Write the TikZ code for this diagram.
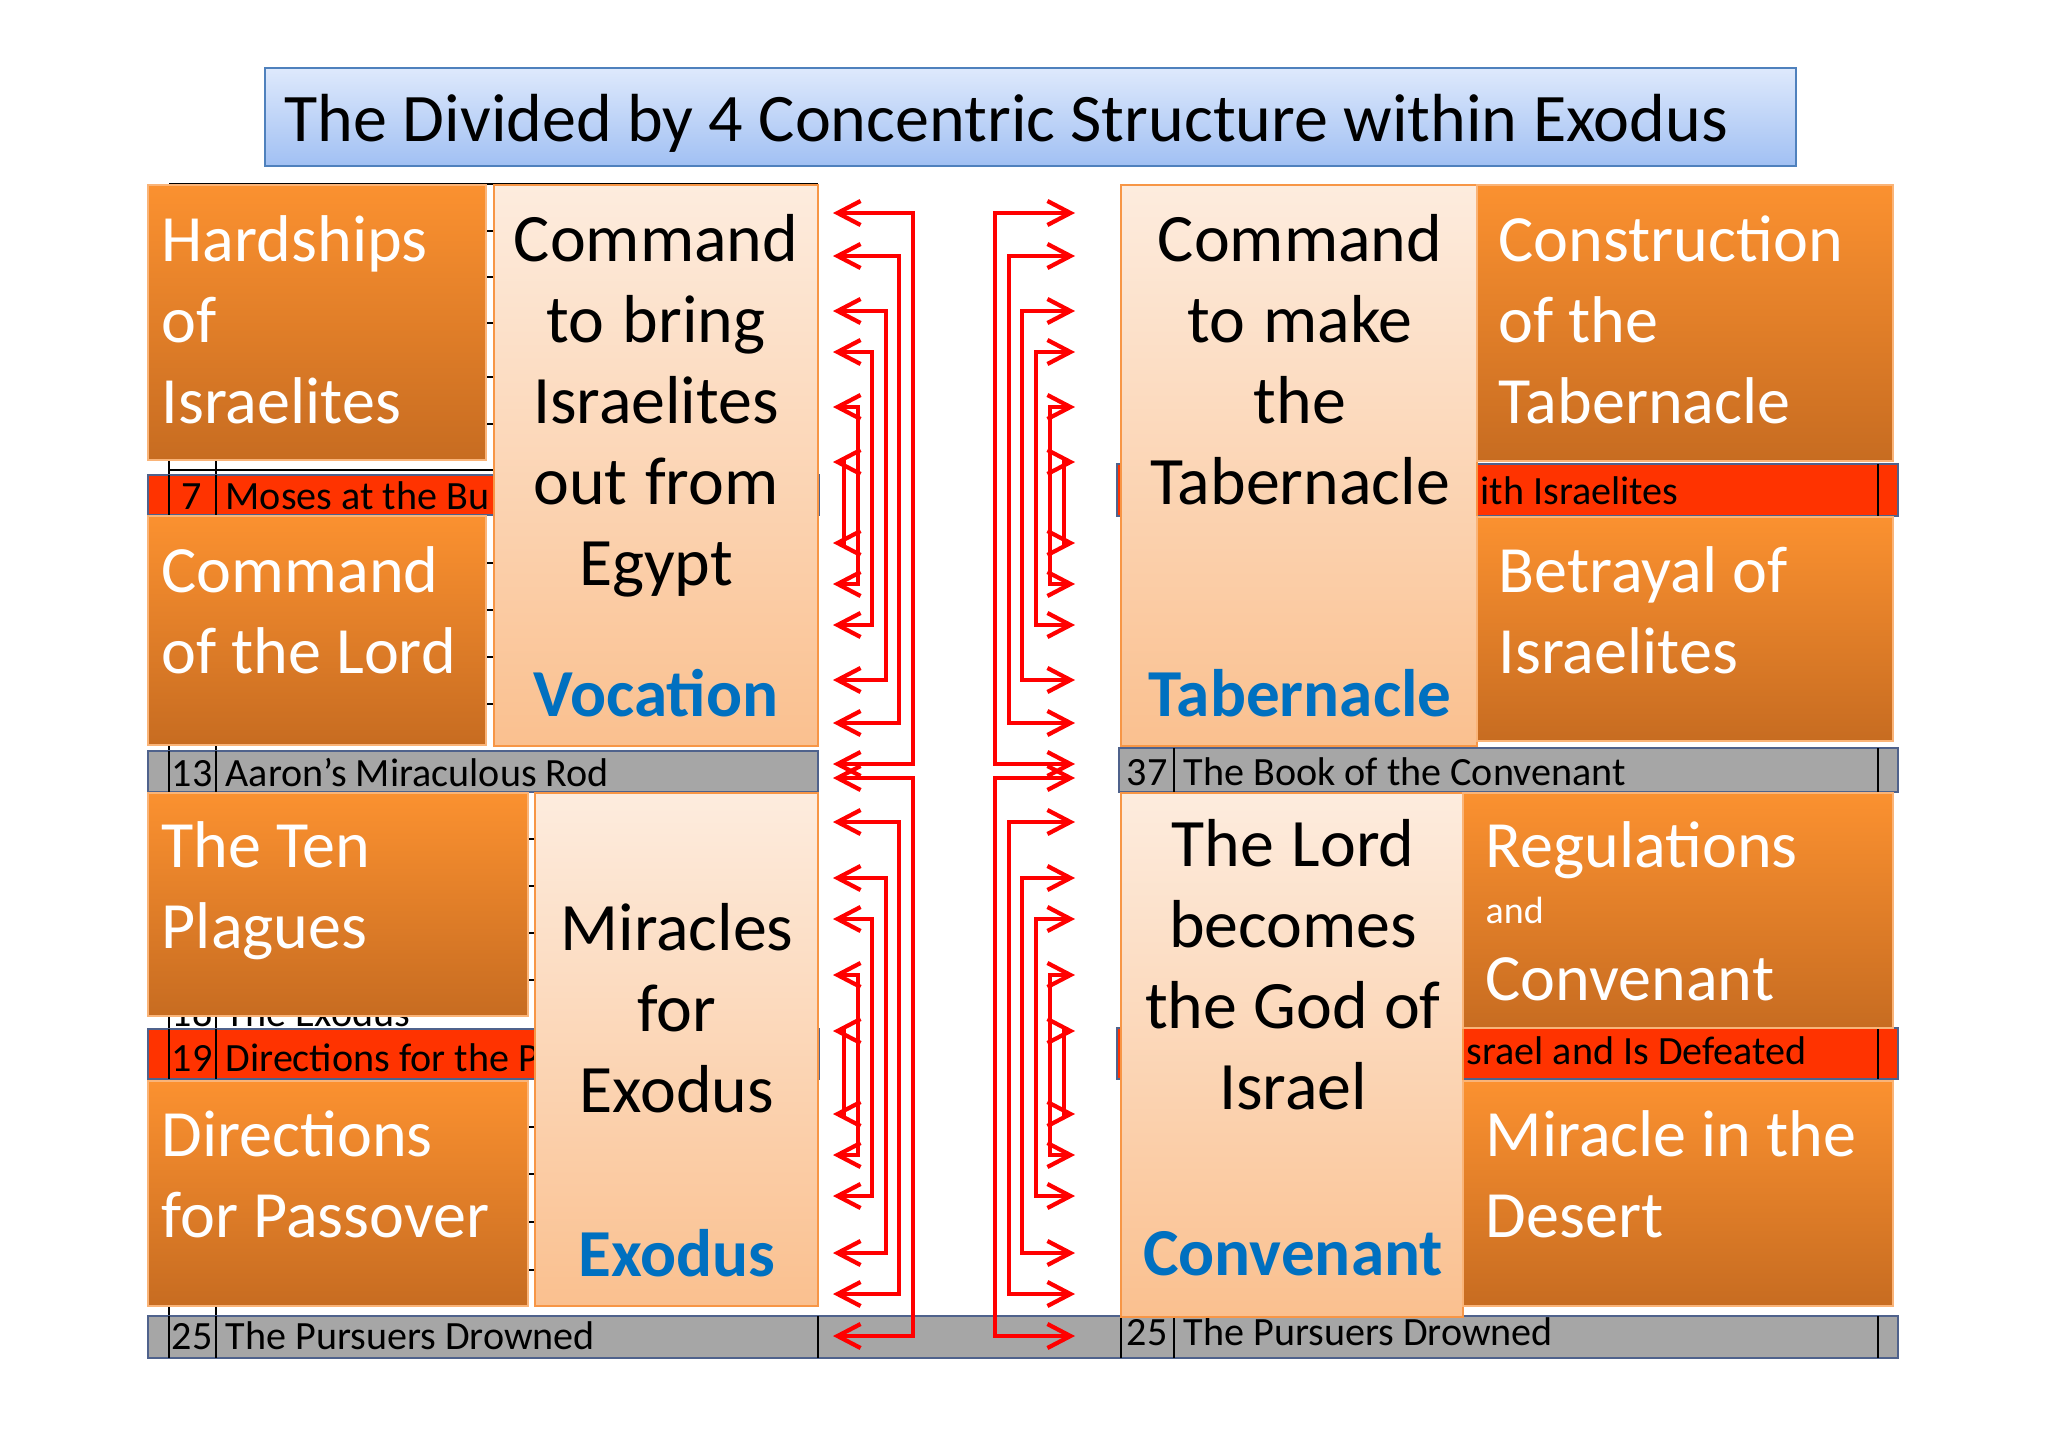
\documentclass[tikz,border=0pt]{standalone}
\usepackage{fontspec}
\setmainfont{Carlito}
\usetikzlibrary{arrows.meta,fit}

\definecolor{otop}{RGB}{251,145,48}
\definecolor{obot}{RGB}{199,108,33}
\definecolor{oline}{RGB}{250,180,120}
\definecolor{ltop}{RGB}{253,236,222}
\definecolor{lbot}{RGB}{250,192,143}
\definecolor{lline}{RGB}{247,150,70}
\definecolor{bandred}{RGB}{255,51,0}
\definecolor{bandgray}{RGB}{166,166,166}
\definecolor{bandline}{RGB}{79,98,140}
\definecolor{ttop}{RGB}{222,233,252}
\definecolor{tbot}{RGB}{161,192,243}
\definecolor{tline}{RGB}{79,129,189}
\definecolor{labblue}{RGB}{0,112,192}

\tikzset{
  obox/.style={draw=oline, line width=0.5pt, top color=otop, bottom color=obot, inner sep=0pt},
  lbox/.style={draw=lline, line width=0.6pt, top color=ltop, bottom color=lbot, inner sep=0pt},
  redband/.style={draw=bandline, line width=0.8pt, fill=bandred, inner sep=0pt},
  grayband/.style={draw=bandline, line width=0.8pt, fill=bandgray, inner sep=0pt},
  natspace/.style={execute at begin node={\spaceskip=0pt\xspaceskip=0pt\relax}},
  wtext/.style={natspace, anchor=base west, inner sep=0pt, text width=4cm, align=left, text=white, font=\fontsize{18.8}{23.1}\selectfont},
  ktext/.style={natspace, anchor=base, inner sep=0pt, text width=3.3cm, align=center, font=\fontsize{19.3}{23.1}\selectfont},
  lab/.style={anchor=base, inner sep=0pt, text=labblue, font=\fontsize{19.1}{23}\selectfont\bfseries},
  btext/.style={anchor=base west, inner sep=0pt, font=\fontsize{11.4}{13}\selectfont},
  bnum/.style={anchor=base, inner sep=0pt, font=\fontsize{11.4}{13}\selectfont},
  tabline/.style={line width=0.3pt},
  brk/.style={red, line width=1.2pt, {Straight Barb[length=2.3mm,width=2.4mm]}-{Straight Barb[length=2.3mm,width=2.4mm]}},
}

\begin{document}
\begin{tikzpicture}[x=0.01cm,y=-0.01cm]
\useasboundingbox (0,0) rectangle (2048,1448);
\fill[white] (0,0) rectangle (2048,1448);

% table behind the left boxes
\foreach \y in {184,231,277,323,377,424,470,563,610,657,704,839,886,933,980,1127,1174,1222,1270}
  \draw[tabline] (169,\y) -- (818,\y);
\draw[tabline] (169,184) -- (169,1358);
\draw[tabline] (216,184) -- (216,1358);
\node[bnum] (n18) at (192,1026) {18};
\node[btext] (t18) at (225,1026) {The Exodus};

% bands
\node[redband, fit={(148,475) (819,515)}] (r7) {};
\node[grayband, fit={(148,751) (818,792)}] (r13) {};
\node[redband, fit={(148,1029) (819,1079)}] (r19) {};
\node[redband, fit={(1117,464) (1898,516)}] (r34) {};
\node[grayband, fit={(1119,748) (1898,792)}] (r37) {};
\node[redband, fit={(1117,1028) (1898,1079)}] (r40) {};
\node[grayband, fit={(148,1316) (1898,1358)}] (r25) {};
\foreach \ya/\yb in {475/515,751/792,1029/1079,1316/1358}
{
  \draw[tabline] (169,\ya) -- (169,\yb);
  \draw[tabline] (216,\ya) -- (216,\yb);
}
\foreach \ya/\yb in {464/516,748/792,1028/1079,1316/1358}
  \draw[tabline] (1878,\ya) -- (1878,\yb);
\draw[tabline] (1174,748) -- (1174,792);
\draw[tabline] (1174,1316) -- (1174,1358);
\draw[tabline] (818,1316) -- (818,1358);
\draw[tabline] (1121,1316) -- (1121,1358);

\node[bnum] at (192,509) {7};
\node[btext] at (225,509) {Moses at the Bu};
\node[bnum] at (192,786) {13};
\node[btext] at (225,786) {Aaron’s Miraculous Rod};
\node[bnum] at (192,1071) {19};
\node[btext] at (225,1071) {Directions for the P};
\node[bnum] at (192,1349) {25};
\node[btext] at (225,1349) {The Pursuers Drowned};
\node[btext] at (1480,504) {ith Israelites};
\node[bnum] at (1147,785) {37};
\node[btext] at (1183,785) {The Book of the Convenant};
\node[btext] at (1466,1064) {srael and Is Defeated};
\node[bnum] at (1147,1345) {25};
\node[btext] at (1183,1345) {The Pursuers Drowned};

% left boxes
\node[obox, fit={(148,185) (486,460)}] (hard) {};
\node[wtext] (hardT) at (161,261) {Hardships\\of\\Israelites};
\node[lbox, fit={(494,185) (818,746)}] (voc) {};
\node[ktext] (vocT) at (656,261) {Command\\to bring\\Israelites\\out from\\Egypt};
\node[lab] (vocL) at (656,716) {Vocation};
\node[obox, fit={(148,516) (486,745)}] (cmd) {};
\node[wtext] (cmdT) at (161,592) {Command\\of the Lord};
\node[obox, fit={(148,793) (528,1016)}] (ten) {};
\node[wtext] (tenT) at (161,867) {The Ten\\Plagues};
\node[lbox, fit={(535,793) (818,1306)}] (exo) {};
\node[ktext] (exoT) at (677,950) {Miracles\\for\\Exodus};
\node[lab] (exoL) at (677,1276) {Exodus};
\node[obox, fit={(148,1081) (528,1306)}] (pass) {};
\node[wtext] (passT) at (161,1156) {Directions\\for Passover};

% right boxes
\node[lbox, fit={(1121,185) (1477,746)}] (tab) {};
\node[ktext] (tabT) at (1300,261) {Command\\to make\\the\\Tabernacle};
\node[lab] (tabL) at (1300,716) {Tabernacle};
\node[obox, fit={(1477,185) (1893,461)}] (cons) {};
\node[wtext] (consT) at (1498,261) {Construction\\of the\\Tabernacle};
\node[obox, fit={(1477,517) (1893,741)}] (betr) {};
\node[wtext] (betrT) at (1498,592) {Betrayal of\\Israelites};
\node[lbox, fit={(1121,793) (1463,1317)}] (conv) {};
\node[ktext] (convT) at (1293,866) {The Lord\\becomes\\the God of\\Israel};
\node[lab] (convL) at (1293,1275) {Convenant};
\node[obox, fit={(1463,793) (1893,1028)}] (regu) {};
\node[wtext] (reguT) at (1485,867) {Regulations};
\node[anchor=base west, inner sep=0pt, text=white, font=\fontsize{10.8}{12}\selectfont] (reguA) at (1485,923) {and};
\node[wtext] (reguC) at (1485,1000) {Convenant};
\node[obox, fit={(1463,1081) (1893,1306)}] (desert) {};
\node[wtext] (desertT) at (1485,1156) {Miracle in the\\Desert};

% brackets
\foreach \ya/\yb/\xv in {213/764/913, 256/723/899, 311/680/886, 352/625/872, 407/584/858, 462/543/844,
  778/1336/913, 822/1294/899, 878/1253/886, 919/1196/872, 975/1155/858, 1031/1114/844}
{
  \draw[brk] (833,\ya) -- (\xv,\ya) -- (\xv,\yb) -- (833,\yb);
  \draw[brk] (1075,\ya) -- (1908-\xv,\ya) -- (1908-\xv,\yb) -- (1075,\yb);
}

% title
\node[fit={(265,68) (1796,166)}, draw=tline, line width=0.8pt, top color=ttop, bottom color=tbot, inner sep=0pt] (title) {};
\node[anchor=base west, inner sep=0pt, font=\fontsize{19.35}{23}\selectfont] (titleT) at (284,141) {The Divided by 4 Concentric Structure within Exodus};
\end{tikzpicture}
\end{document}
